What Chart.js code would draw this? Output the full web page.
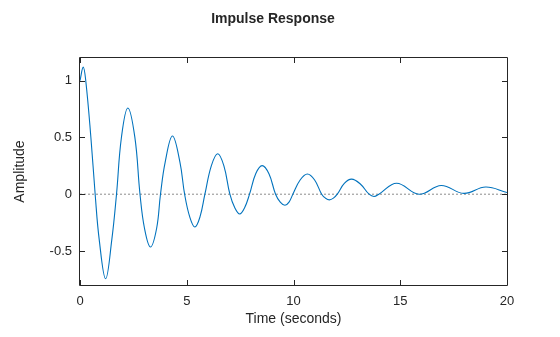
<!DOCTYPE html>
<html>
<head>
<meta charset="utf-8">
<title>Impulse Response</title>
<script src="https://cdn.jsdelivr.net/npm/chart.js@4"></script>
<style>
  html, body { margin: 0; padding: 0; background: #fff; }
  canvas { display: block; }
</style>
</head>
<body>
<canvas id="impulse" width="560" height="337"></canvas>
<script>
// Sampled impulse response (time in s, amplitude)
const timeSec = [0, 0.15, 0.27, 0.51, 0.71, 0.9, 1.2, 1.49, 1.71, 1.94, 2.24, 2.57, 2.81,
  3.02, 3.3, 3.59, 3.77, 3.99, 4.33, 4.68, 4.9, 5.14, 5.38, 5.62, 5.85, 6.15, 6.45, 6.74,
  7.02, 7.25, 7.48, 7.71, 7.94, 8.23, 8.53, 8.85, 9.16, 9.38, 9.6, 9.79, 9.97, 10.31,
  10.65, 10.99, 11.32, 11.5, 11.68, 11.87, 12.05, 12.38, 12.72, 13.13, 13.54, 13.77,
  14.0, 14.83, 15.88, 16.92, 17.98, 19.0, 20];
const amplitude = [1.0, 1.12, 1.0, 0.5, 0, -0.4, -0.745, -0.4, 0, 0.5, 0.76, 0.5, 0,
  -0.3, -0.465, -0.3, 0, 0.283, 0.513, 0.283, 0, -0.2, -0.289, -0.2, 0, 0.25, 0.357, 0.25,
  0, -0.12, -0.175, -0.12, 0, 0.18, 0.252, 0.18, 0, -0.07, -0.098, -0.07, 0, 0.125,
  0.178, 0.125, 0, -0.035, -0.05, -0.035, 0, 0.095, 0.133, 0.09, 0, -0.02,
  0, 0.097, 0.0, 0.077, 0.007, 0.063, 0.015];

const xTicks = [0, 5, 10, 15, 20];
const yTicks = [-0.5, 0, 0.5, 1];
const xRange = [0, 20];
const yRange = [-0.8, 1.2];

const axisColor = "#262626";
const font = "'Liberation Sans', Arial, Helvetica, sans-serif";

// box around the axes with inward tick marks, plus titles
const boxPlugin = {
  id: "box",
  afterDraw(chart) {
    const ctx = chart.ctx;
    const a = chart.chartArea;
    const xs = chart.scales.x;
    const ys = chart.scales.y;
    const tick = 5;
    ctx.save();
    ctx.strokeStyle = axisColor;
    ctx.lineWidth = 1;
    ctx.beginPath();
    ctx.rect(a.left - 0.5, a.top - 0.5, a.right - a.left + 1, a.bottom - a.top + 1);
    xTicks.forEach((v) => {
      const px = Math.round(xs.getPixelForValue(v)) + 0.5;
      ctx.moveTo(px, a.bottom);
      ctx.lineTo(px, a.bottom - tick);
      ctx.moveTo(px, a.top);
      ctx.lineTo(px, a.top + tick);
    });
    yTicks.forEach((v) => {
      const py = Math.round(ys.getPixelForValue(v)) + 0.5;
      ctx.moveTo(a.left, py);
      ctx.lineTo(a.left + tick, py);
      ctx.moveTo(a.right, py);
      ctx.lineTo(a.right - tick, py);
    });
    ctx.stroke();

    ctx.fillStyle = axisColor;
    ctx.textAlign = "center";
    ctx.textBaseline = "middle";
    ctx.font = "bold 14px " + font;
    ctx.fillText("Impulse Response", 273, 19);

    ctx.font = "14px " + font;
    ctx.fillText("Time (seconds)", (a.left + a.right) / 2, 319);

    ctx.translate(20, (a.top + a.bottom) / 2);
    ctx.rotate(-Math.PI / 2);
    ctx.fillText("Amplitude", 0, 0);
    ctx.restore();
  },
};

new Chart(document.getElementById("impulse"), {
  type: "line",
  data: {
    datasets: [
      {
        label: "Impulse",
        data: timeSec.map((t, i) => ({ x: t, y: amplitude[i] })),
        borderColor: "#0072BD",
        borderWidth: 1.1,
        pointRadius: 0,
        fill: false,
        tension: 0.4,
      },
      {
        label: "zero",
        data: xRange.map((t) => ({ x: t, y: 0 })),
        borderColor: "#8c8c8c",
        borderWidth: 1,
        borderDash: [2, 2],
        pointRadius: 0,
        fill: false,
        order: 1,
      },
    ],
  },
  options: {
    responsive: false,
    animation: false,
    layout: { padding: { top: 58, right: 53, bottom: 0, left: 0 } },
    plugins: {
      legend: { display: false },
      tooltip: { enabled: false },
    },
    scales: {
      x: {
        type: "linear",
        min: xRange[0],
        max: xRange[1],
        afterBuildTicks: (s) => { s.ticks = xTicks.map((v) => ({ value: v })); },
        afterFit: (s) => { s.height = 52; },
        grid: { display: false, drawTicks: false },
        border: { display: false },
        ticks: {
          padding: 9,
          color: axisColor,
          font: { family: font, size: 13 },
          maxRotation: 0,
          callback: (v) => String(v),
        },
      },
      y: {
        type: "linear",
        min: yRange[0],
        max: yRange[1],
        afterBuildTicks: (s) => { s.ticks = yTicks.map((v) => ({ value: v })); },
        afterFit: (s) => { s.width = 80; },
        grid: { display: false, drawTicks: false },
        border: { display: false },
        ticks: {
          padding: 8,
          color: axisColor,
          font: { family: font, size: 13 },
          callback: (v) => String(v),
        },
      },
    },
  },
  plugins: [boxPlugin],
});
</script>
</body>
</html>
